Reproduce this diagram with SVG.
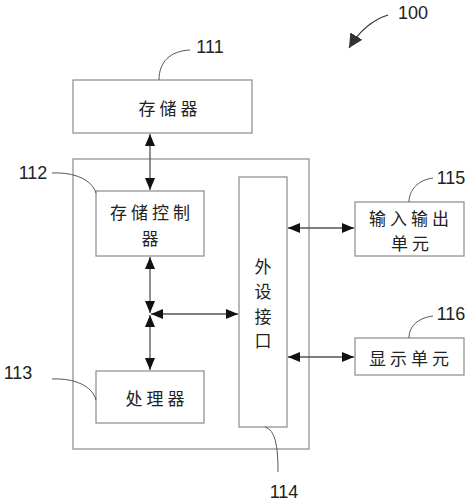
<svg xmlns="http://www.w3.org/2000/svg" width="474" height="504" viewBox="0 0 474 504">
<style>
.box{fill:#fff;stroke:#8a8a8a;stroke-width:1.2}
.cn{font-family:"Noto Sans CJK SC","Noto Sans CJK JP",sans-serif;font-size:17px;fill:#222;letter-spacing:4px;text-anchor:middle;dominant-baseline:central}
.num{font-family:"Liberation Sans",Arial,sans-serif;font-size:18px;fill:#222;text-anchor:middle;dominant-baseline:central}
.lead{fill:none;stroke:#555;stroke-width:1}
.conn{fill:none;stroke:#555;stroke-width:1.3;marker-start:url(#ah);marker-end:url(#ah)}
</style>
<defs>
<marker id="ah" viewBox="0 0 12 10" refX="12" refY="5" markerWidth="12" markerHeight="10" markerUnits="userSpaceOnUse" orient="auto-start-reverse">
<path d="M0,0 L12,5 L0,10 Z" fill="#111"/>
</marker>
<marker id="ah2" viewBox="0 0 10 10" refX="10" refY="5" markerWidth="14" markerHeight="14" markerUnits="userSpaceOnUse" orient="auto">
<path d="M0,0 L10,5 L0,10 Z" fill="#333"/>
</marker>
</defs>
<g id="outer"><rect class="box" x="73" y="159" width="236" height="290"/></g>
<g id="n111"><rect class="box" x="73" y="80" width="179" height="53"/><text class="cn" x="170" y="107">存储器</text></g>
<g id="n112"><rect class="box" x="96" y="191" width="108" height="65"/><text class="cn" x="152" y="211">存储控制</text><text class="cn" x="152" y="237">器</text></g>
<g id="n113"><rect class="box" x="96" y="371" width="108" height="52"/><text class="cn" x="157" y="397">处理器</text></g>
<g id="n114"><rect class="box" x="239" y="177" width="48" height="250"/><text class="cn" x="265" y="265">外</text><text class="cn" x="265" y="290">设</text><text class="cn" x="265" y="315">接</text><text class="cn" x="265" y="339">口</text></g>
<g id="n115"><rect class="box" x="355" y="202" width="109" height="54"/><text class="cn" x="411" y="217">输入输出</text><text class="cn" x="412" y="242">单元</text></g>
<g id="n116"><rect class="box" x="355" y="338" width="109" height="37"/><text class="cn" x="411" y="357">显示单元</text></g>
<g id="labels">
<text class="num" x="413" y="13">100</text>
<text class="num" x="210" y="47">111</text>
<text class="num" x="33" y="173">112</text>
<text class="num" x="18" y="373">113</text>
<text class="num" x="284" y="492">114</text>
<text class="num" x="451" y="178">115</text>
<text class="num" x="451" y="314">116</text>
<path class="lead" d="M159,80 C159,62 170,51 190,50"/>
<path class="lead" d="M52,173 C75,172 92,180 96,193"/>
<path class="lead" d="M52,379 C75,378 92,386 96,400"/>
<path class="lead" d="M265,427 C275,430 278,445 278,472"/>
<path class="lead" d="M409,202 C409,190 418,180 433,178"/>
<path class="lead" d="M409,338 C409,326 418,318 433,316"/>
<path d="M388,15 C372,20 360,30 349,48" fill="none" stroke="#333" stroke-width="1.3" marker-end="url(#ah2)"/>
</g>
<g id="connectors">
<line class="conn" x1="150" y1="134" x2="150" y2="190"/>
<line class="conn" x1="150" y1="257" x2="150" y2="313"/>
<line class="conn" x1="150" y1="315" x2="150" y2="370"/>
<line class="conn" x1="151" y1="314" x2="238" y2="314"/>
<line class="conn" x1="288" y1="228" x2="354" y2="228"/>
<line class="conn" x1="288" y1="357" x2="354" y2="357"/>
</g>
</svg>
